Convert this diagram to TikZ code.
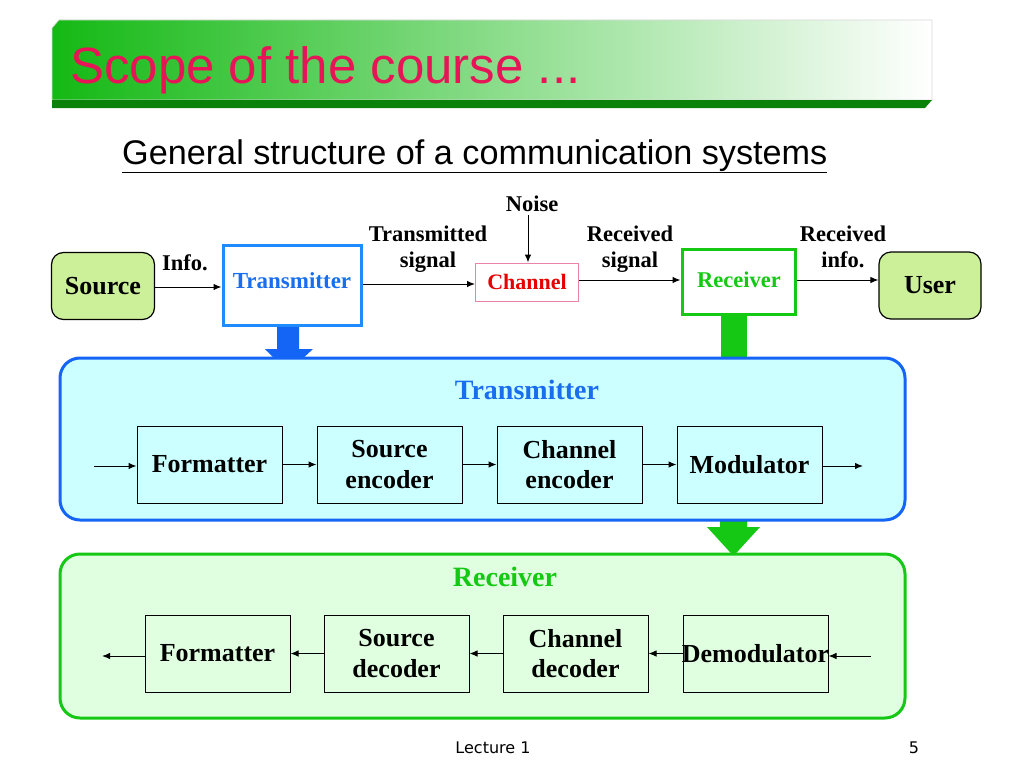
\documentclass[tikz,border=0pt]{standalone}
\usepackage{fontspec}
\setmainfont{Liberation Serif}
\newfontfamily\arialfont{Liberation Sans}
\newfontfamily\tahomafont{DejaVu Sans}
\usetikzlibrary{arrows.meta}
\definecolor{titlered}{RGB}{232,20,88}
\definecolor{tgreen}{RGB}{20,185,20}
\definecolor{tdark}{RGB}{10,130,10}
\definecolor{endfill}{RGB}{204,240,153}
\definecolor{txblue}{RGB}{25,110,240}
\definecolor{txborder}{RGB}{30,140,255}
\definecolor{bigblue}{RGB}{20,100,245}
\definecolor{cyanfill}{RGB}{204,255,255}
\definecolor{chpink}{RGB}{235,130,170}
\definecolor{chred}{RGB}{230,0,0}
\definecolor{rxgreen}{RGB}{20,200,20}
\definecolor{rxfill}{RGB}{224,255,224}
\begin{document}
\begin{tikzpicture}[x=1pt,y=-1pt,
 lbl/.style={font=\bfseries\fontsize{22.5}{26.5}\selectfont, align=center, inner sep=0pt},
 endbox/.style={draw=black, line width=1.2pt, fill=endfill, rounded corners=12pt, inner sep=0pt, font=\bfseries\fontsize{26}{30}\selectfont},
 blk/.style={draw=black, line width=1pt, inner sep=0pt, minimum width=145pt, minimum height=77pt, align=center, font=\bfseries\fontsize{26}{30.5}\selectfont},
 arr/.style={-{Latex[length=8pt,width=6.5pt]}, line width=1pt},
 bigtitle/.style={font=\bfseries\fontsize{28}{32}\selectfont, inner sep=0pt},
 bigbox/.style={line width=3pt, rounded corners=20pt, minimum width=845pt, inner sep=0pt},
]
\useasboundingbox (0,0) rectangle (1024,768);
\fill[white] (0,0) rectangle (1024,768);

% title bar
\shade[left color=tgreen, right color=white, draw=gray!30, line width=0.6pt]
  (52,28) -- (59,20) -- (932,20) -- (932,100) -- (52,100) -- cycle;
\fill[tdark] (52,100) -- (932,100) -- (925,108) -- (52,108) -- cycle;
\node[anchor=base west, font=\arialfont\fontsize{51}{57}\selectfont, text=titlered, inner sep=0pt] (title) at (70,83) {Scope of the course ...};

% subtitle
\node[anchor=base west, font=\arialfont\fontsize{34.2}{40}\selectfont, inner sep=0pt] (sub) at (122,164) {\underline{General structure of a communication systems}};

% block arrows (behind boxes)
\fill[bigblue] (277,324) -- (299,324) -- (299,349) -- (313,349) -- (288,372) -- (265,349) -- (277,349) -- cycle;
\fill[rxgreen] (721,312) rectangle (747,362);
\fill[rxgreen] (720,518) -- (747,518) -- (747,527) -- (760,527) -- (733.5,556) -- (707,527) -- (720,527) -- cycle;

% top row
\node[endbox, minimum width=103pt, minimum height=67pt] (src) at (103,286) {Source};
\node[draw=txborder, line width=3pt, fill=white, minimum width=138pt, minimum height=80pt, inner sep=0pt] (tx) at (292,285.5) {};
\node[font=\bfseries\fontsize{23}{27}\selectfont, text=txblue, inner sep=0pt] (txl) at (292,281) {Transmitter};
\node[draw=chpink, line width=1pt, fill=white, minimum width=103pt, minimum height=38pt, inner sep=0pt, text=chred, font=\bfseries\fontsize{22}{26}\selectfont] (ch) at (527,282) {Channel};
\node[draw=rxgreen, line width=3pt, fill=white, minimum width=113pt, minimum height=65pt, inner sep=0pt] (rx) at (738.5,281.5) {};
\node[font=\bfseries\fontsize{22.5}{26}\selectfont, text=rxgreen, inner sep=0pt] (rxl) at (739,280) {Receiver};
\node[endbox, minimum width=102pt, minimum height=67pt] (usr) at (930,285.5) {User};

\node[lbl] (info) at (185,263) {Info.};
\node[lbl] (tsig) at (428,249) {Transmitted\\signal};
\node[lbl] (noise) at (532,204) {Noise};
\node[lbl] (rsig) at (630,249) {Received\\signal};
\node[lbl] (rinfo) at (843,247) {Received\\info.};

\draw[arr] (src.east |- 0,287) -- (tx.west |- 0,287);
\draw[arr] (tx.east |- 0,284) -- (ch.west |- 0,284);
\draw[arr] (noise.south -| 528,0) ++(0,3) -- (ch.north -| 528,0);
\draw[arr] (ch.east |- rxl) -- (rx.west |- rxl);
\draw[arr] (rx.east |- rxl) -- (usr.west |- rxl);

% transmitter detail
\node[bigbox, draw=bigblue, fill=cyanfill, minimum height=162pt] (txbig) at (482.5,439) {};
\node[bigtitle, text=txblue] (txtitle) at (527,390) {Transmitter};
\node[blk, fill=cyanfill] (fmt) at (209.5,464.5) {Formatter};
\node[blk, fill=cyanfill] (senc) at (389.5,464.5) {Source\\encoder};
\node[blk, fill=cyanfill] (cenc) at (569.5,464.5) {Channel\\encoder};
\node[blk, fill=cyanfill] (mod) at (749.5,464.5) {Modulator};
\coordinate (tin) at (94,466);
\coordinate (tout) at (863,466);
\draw[arr] (tin) -- (tin -| fmt.west);
\draw[arr] (fmt) -- (senc);
\draw[arr] (senc) -- (cenc);
\draw[arr] (cenc) -- (mod);
\draw[arr] (mod.east |- tout) -- (tout);

% receiver detail
\node[bigbox, draw=rxgreen, fill=rxfill, minimum height=164pt] (rxbig) at (482.5,636) {};
\node[bigtitle, text=rxgreen] (rxtitle) at (505,577) {Receiver};
\node[blk, fill=rxfill] (fmt2) at (217.5,653.5) {Formatter};
\node[blk, fill=rxfill] (sdec) at (396.5,653.5) {Source\\decoder};
\node[blk, fill=rxfill] (cdec) at (575.5,653.5) {Channel\\decoder};
\node[blk, fill=rxfill] (demod) at (755.5,653.5) {\makebox[140pt]{Demodulator}};
\coordinate (rin) at (871,656);
\coordinate (rout) at (102,656);
\draw[arr] (rin) -- (rin -| demod.east);
\draw[arr] (demod) -- (cdec);
\draw[arr] (cdec) -- (sdec);
\draw[arr] (sdec) -- (fmt2);
\draw[arr] (fmt2.west |- rout) -- (rout);

% footer
\node[font=\tahomafont\fontsize{16}{18}\selectfont, anchor=base, inner sep=0pt] (lec) at (493,753) {Lecture 1};
\node[font=\tahomafont\fontsize{16}{18}\selectfont, anchor=base, inner sep=0pt] (pg) at (914,753) {5};
\end{tikzpicture}
\end{document}
